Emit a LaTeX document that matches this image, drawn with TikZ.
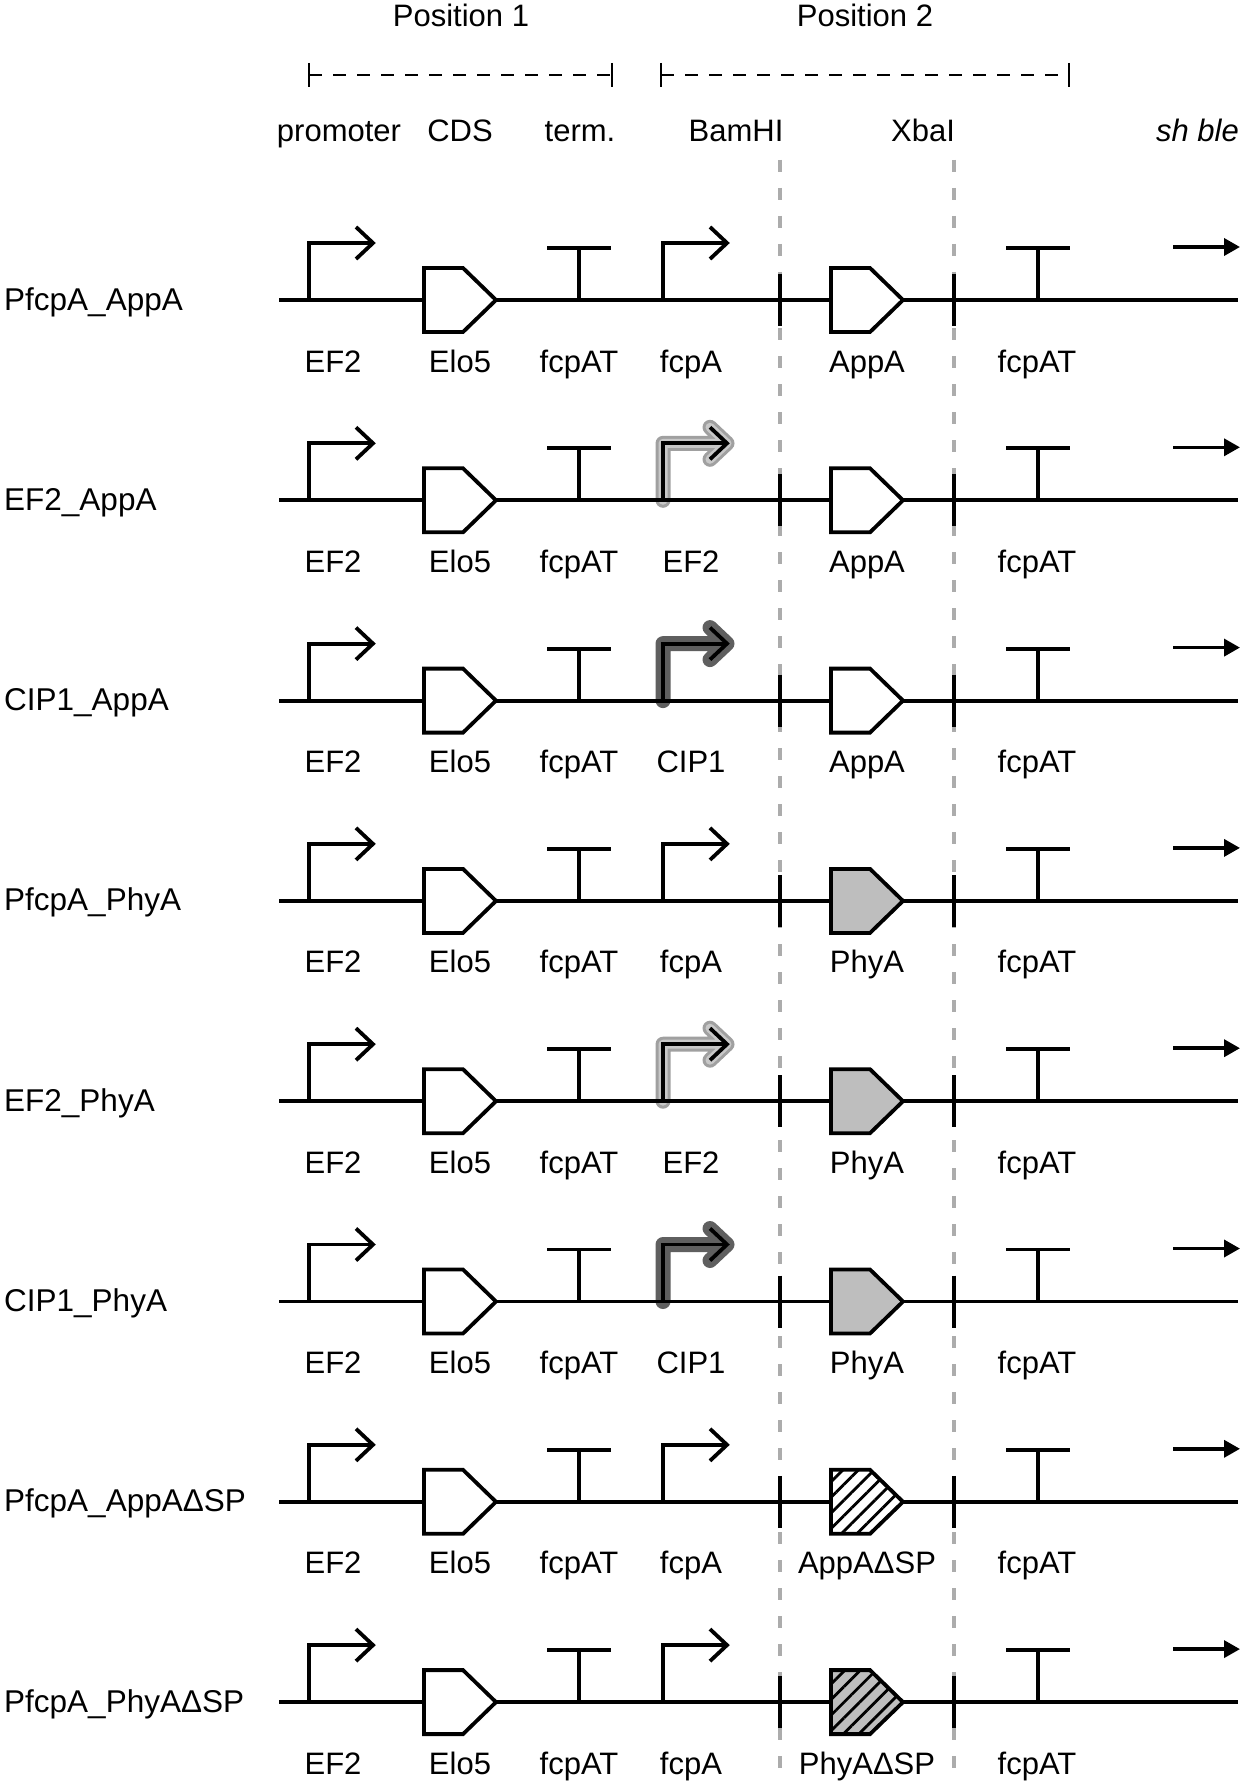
\documentclass[tikz,border=0pt]{standalone}
\usepackage{fontspec}
\setmainfont{Liberation Sans}
\usetikzlibrary{arrows.meta,patterns.meta}

\definecolor{fillgrey}{RGB}{190,190,190}
\definecolor{dashgrey}{RGB}{172,172,172}
\definecolor{glowlight}{RGB}{160,160,160}
\definecolor{glowinner}{RGB}{200,200,200}
\definecolor{glowdark}{RGB}{95,95,95}

\tikzset{
  every node/.style={font=\fontsize{31}{37}\selectfont, inner sep=0pt},
  dna/.style={line width=3.8pt},
  part/.style={line width=3.8pt, line join=miter},
  lbl/.style={anchor=base},
  rowname/.style={anchor=base west, font=\fontsize{31.5}{37}\selectfont},
  site/.style={line width=3.8pt},
  guide/.style={dashgrey, line width=3.6pt, dash pattern=on 12pt off 16pt},
  bracket/.style={line width=2.6pt, dash pattern=on 13pt off 11pt},
  brtick/.style={line width=2.8pt},
  hatch/.style={pattern={Lines[angle=45,distance=11pt,line width=2.8pt]}, pattern color=black},
  pics/prom/.style={code={
    \draw[part] (0,0) -- (0,-57) -- (64,-57);
    \draw[part] (47,-73) -- (64,-57) -- (47,-41);
  }},
  pics/glowL/.style={code={
    \draw[glowlight, line width=15pt, line cap=round, line join=round]
      (0,0) -- (0,-57) -- (64,-57) (47,-73) -- (64,-57) -- (47,-41);
    \draw[glowinner, line width=9pt, line cap=round, line join=round]
      (0,0) -- (0,-57) -- (64,-57) (47,-73) -- (64,-57) -- (47,-41);
  }},
  pics/glowD/.style={code={
    \draw[glowdark, line width=15pt, line cap=round, line join=round]
      (0,0) -- (0,-57) -- (64,-57) (47,-73) -- (64,-57) -- (47,-41);
  }},
  pics/noglow/.style={code={}},
  pics/cds/.style={code={
    \draw[part, #1] (0,-32) -- (39,-32) -- (72,0) -- (39,32) -- (0,32) -- cycle;
  }},
  pics/term/.style={code={
    \draw[part] (0,0) -- (0,-52) (-32,-52) -- (32,-52);
  }},
}

% #1 id, #2 y, #3 row name, #4 glow pic, #5 promoter label, #6 cds style, #7 cds label
\newcommand\dnarow[7]{%
  \pic at (663,#2) {#4};
  \coordinate (#1-s) at (279,#2);
  \coordinate (#1-e) at (1238,#2);
  \draw[dna] (#1-s) -- (#1-e);
  \node[rowname] (#1-name) at (4,{#2+10}) {#3};
  \pic at (309,#2) {prom};
  \pic at (424,#2) {cds={fill=white}};
  \pic at (579,#2) {term};
  \pic at (663,#2) {prom};
  \coordinate (#1-b1) at (780,{#2-26});
  \coordinate (#1-b2) at (780,{#2+26});
  \coordinate (#1-x1) at (954,{#2-26});
  \coordinate (#1-x2) at (954,{#2+26});
  \draw[site] (#1-b1) -- (#1-b2);
  \draw[site] (#1-x1) -- (#1-x2);
  \pic at (831,#2) {cds={#6}};
  \pic at (1038,#2) {term};
  \coordinate (#1-a1) at (1173,{#2-53});
  \coordinate (#1-a2) at (1240,{#2-53});
  \draw[line width=3.6pt, -{Triangle[length=16pt,width=17pt]}] (#1-a1) -- (#1-a2);
  \node[lbl] (#1-l1) at (333,{#2+72}) {EF2};
  \node[lbl] (#1-l2) at (460,{#2+72}) {Elo5};
  \node[lbl] (#1-l3) at (579,{#2+72}) {fcpAT};
  \node[lbl] (#1-l4) at (691,{#2+72}) {#5};
  \node[lbl] (#1-l5) at (867,{#2+72}) {#7};
  \node[lbl] (#1-l6) at (1037,{#2+72}) {fcpAT};
}

\begin{document}
\begin{tikzpicture}[x=1pt,y=-1pt]
  \useasboundingbox[fill=white] (0,0) rectangle (1245,1784);

  % guide lines
  \coordinate (g1t) at (780,160);
  \coordinate (g1b) at (780,1784);
  \coordinate (g2t) at (954,160);
  \coordinate (g2b) at (954,1784);
  \draw[guide] (g1t) -- (g1b);
  \draw[guide] (g2t) -- (g2b);

  % header
  \node[lbl] (pos1) at (461,27) {Position 1};
  \node[lbl] (pos2) at (865,27) {Position 2};
  \coordinate (p1s) at (309,75);
  \coordinate (p1e) at (612,75);
  \coordinate (p2s) at (661,75);
  \coordinate (p2e) at (1069,75);
  \draw[bracket] (p1s) -- (p1e);
  \draw[bracket] (p2s) -- (p2e);
  \draw[brtick] ([yshift=12pt]p1s) -- ([yshift=-12pt]p1s);
  \draw[brtick] ([yshift=12pt]p1e) -- ([yshift=-12pt]p1e);
  \draw[brtick] ([yshift=12pt]p2s) -- ([yshift=-12pt]p2s);
  \draw[brtick] ([yshift=12pt]p2e) -- ([yshift=-12pt]p2e);

  \node[lbl] (hprom) at (339,142) {promoter};
  \node[lbl] (hcds) at (460,142) {CDS};
  \node[lbl] (hterm) at (580,142) {term.};
  \node[lbl] (hbam) at (736,142) {BamHI};
  \node[lbl] (hxba) at (923,142) {XbaI};
  \node[anchor=base east] (hsh) at (1239,142) {\itshape sh ble};

  \dnarow{r1}{300}{PfcpA\_AppA}{noglow}{fcpA}{fill=white}{AppA}
  \dnarow{r2}{500.3}{EF2\_AppA}{glowL}{EF2}{fill=white}{AppA}
  \dnarow{r3}{700.6}{CIP1\_AppA}{glowD}{CIP1}{fill=white}{AppA}
  \dnarow{r4}{900.9}{PfcpA\_PhyA}{noglow}{fcpA}{fill=fillgrey}{PhyA}
  \dnarow{r5}{1101.2}{EF2\_PhyA}{glowL}{EF2}{fill=fillgrey}{PhyA}
  \dnarow{r6}{1301.5}{CIP1\_PhyA}{glowD}{CIP1}{fill=fillgrey}{PhyA}
  \dnarow{r7}{1501.8}{PfcpA\_AppAΔSP}{noglow}{fcpA}{preaction={fill=white},hatch}{AppAΔSP}
  \dnarow{r8}{1702.1}{PfcpA\_PhyAΔSP}{noglow}{fcpA}{preaction={fill=fillgrey},hatch}{PhyAΔSP}
\end{tikzpicture}
\end{document}
